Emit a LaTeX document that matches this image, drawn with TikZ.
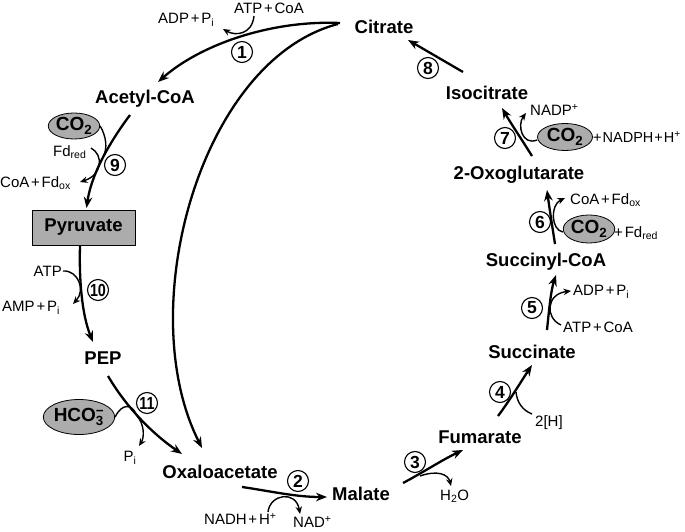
\documentclass[tikz,border=0pt]{standalone}
\usepackage{fontspec}
\usepackage{graphicx}
\setmainfont{Liberation Sans}
\usetikzlibrary{shapes.geometric,arrows.meta}
\newcommand\plsign{\kern1.8pt+\kern1.8pt}
\begin{document}
\begin{tikzpicture}[x=1pt,y=-1pt,
 cpd/.style={font=\fontsize{18.5}{21}\selectfont\bfseries, inner sep=1pt},
 cof/.style={font=\fontsize{15}{17}\selectfont, inner sep=0pt},
 stepnum/.style={circle, draw, line width=1.1pt, minimum size=21pt, inner sep=0pt, font=\fontsize{17.5}{18}\selectfont\bfseries},
 gas/.style={ellipse, draw, line width=0.8pt, fill=gray!65, inner sep=0pt, font=\fontsize{19}{21}\selectfont\bfseries},
 main/.style={line width=2.3pt, -{Stealth[length=11pt,width=8.5pt]}},
 side/.style={line width=1.4pt, -{Stealth[length=7.5pt,width=6.5pt]}},
 joinline/.style={line width=1.4pt}]
\useasboundingbox (0,0) rectangle (685,532);
% compounds
\node[cpd] (cit) at (384,27) {Citrate};
\node[cpd] (acoa) at (145,99) {Acetyl-CoA};
\node[draw, line width=0.8pt, fill=gray!65, minimum width=103pt, minimum height=35pt, font=\fontsize{18.5}{21}\selectfont\bfseries] (pyr) at (83.5,227.5) {Pyruvate};
\node[cpd] (pep) at (103,358) {PEP};
\node[cpd] (oaa) at (220,472) {Oxaloacetate};
\node[cpd] (mal) at (361,494) {Malate};
\node[cpd] (fum) at (480,437) {Fumarate};
\node[cpd] (suc) at (532,352) {Succinate};
\node[cpd] (scoa) at (546,262) {Succinyl-CoA};
\node[cpd] (oxg) at (519,175) {2-Oxoglutarate};
\node[cpd] (icit) at (487,93) {Isocitrate};
% gases
\node[gas, minimum width=48pt, minimum height=26pt] (co2a) at (74,126) {CO\textsubscript{2}};
\node[gas, minimum width=65pt, minimum height=35pt] (hco) at (79,417) {HCO\rlap{\textsubscript{3}}\textsuperscript{\char"2212}};
\node[gas, minimum width=48pt, minimum height=28pt] (co2c) at (589,229) {CO\textsubscript{2}};
\node[gas, minimum width=55pt, minimum height=27pt] (co2d) at (565,137) {CO\textsubscript{2}};
% cofactors
\node[cof, anchor=west] (adp1) at (158,20) {ADP\plsign P\textsubscript{i}};
\node[cof, anchor=west] (atp1) at (234,8) {ATP\plsign CoA};
\node[cof, anchor=west] (fdr9) at (53,152) {Fd\textsubscript{red}};
\node[cof, anchor=west] (fdo9) at (0,183) {CoA\plsign Fd\textsubscript{ox}};
\node[cof, anchor=east] (atp10) at (62,271) {ATP};
\node[cof, anchor=west] (amp10) at (2,308) {AMP\plsign P\textsubscript{i}};
\node[cof] (pi11) at (130,458) {P\textsubscript{i}};
\node[cof, anchor=west] (nadh2) at (204,519) {NADH\plsign H\textsuperscript{+}};
\node[cof, anchor=west] (nad2) at (293,522) {NAD\textsuperscript{+}};
\node[cof, anchor=west] (h2o3) at (440,496) {H\textsubscript{2}O};
\node[cof, anchor=west] (h4) at (535,423) {2[H]};
\node[cof, anchor=west] (atp5) at (563,327) {ATP\plsign CoA};
\node[cof, anchor=west] (adp5) at (573,292) {ADP\plsign P\textsubscript{i}};
\node[cof, anchor=west] (fdr6) at (614,233) {+\kern1.8pt Fd\textsubscript{red}};
\node[cof, anchor=west] (fdo6) at (570,200) {CoA\plsign Fd\textsubscript{ox}};
\node[cof, anchor=west, font=\fontsize{14.5}{17}\selectfont] (nadph7) at (593,137) {+\kern1pt NADPH\kern1pt+\kern1pt H\textsuperscript{+}};
\node[cof, anchor=west] (nadp7) at (530,110) {NADP\textsuperscript{+}};
% step numbers
\node[stepnum] (s1) at (242,52) {1};
\node[stepnum] (s2) at (298,481) {2};
\node[stepnum] (s3) at (415,462) {3};
\node[stepnum] (s4) at (500,392) {4};
\node[stepnum] (s5) at (532,308) {5};
\node[stepnum] (s6) at (540,222) {6};
\node[stepnum] (s7) at (505,138) {7};
\node[stepnum] (s8) at (428,68) {8};
\node[stepnum] (s9) at (115,165) {9};
\node[stepnum] (s10) at (98,290) {\scalebox{0.82}[1]{10}};
\node[stepnum] (s11) at (147,403) {\scalebox{0.82}[1]{11}};
% main arrows
\draw[main] ([shift={(-44,-4)}]cit.center) .. controls (270,20) and (200,45) .. ([shift={(13,-17)}]acoa.center);
\draw[main] ([shift={(-46,-3)}]cit.center) .. controls (200,60) and (132,310) .. ([shift={(-18,-24)}]oaa.center);
\draw[main] ([shift={(-15,16)}]acoa.center) .. controls (115,135) and (92,170) .. ([shift={(3,-19.5)}]pyr.center);
\draw[main] ([shift={(-3.5,18.5)}]pyr.center) .. controls (79,280) and (82,315) .. ([shift={(-10,-16)}]pep.center);
\draw[main] ([shift={(5,18)}]pep.center) .. controls (125,405) and (150,432) .. ([shift={(-38,-18)}]oaa.center);
\draw[main] ([shift={(22,15)}]oaa.center) .. controls (270,491) and (295,497) .. ([shift={(-34,3)}]mal.center);
\draw[main] ([shift={(42,-11)}]mal.center) .. controls (422,473) and (442,460) .. ([shift={(-17,13)}]fum.center);
\draw[main] ([shift={(18,-21)}]fum.center) .. controls (510,400) and (522,380) .. ([shift={(0,13)}]suc.center);
\draw[main] ([shift={(15,-22)}]suc.center) .. controls (549,310) and (551,290) .. ([shift={(10,13)}]scoa.center);
\draw[main] ([shift={(9,-18)}]scoa.center) .. controls (552,225) and (549,205) .. ([shift={(28,15)}]oxg.center);
\draw[main] ([shift={(13,-19)}]oxg.center) .. controls (522,140) and (510,122) .. ([shift={(15,15)}]icit.center);
\draw[main] ([shift={(-24,-21)}]icit.center) -- ([shift={(24,13)}]cit.center);
% side reactions
\draw[side] ([shift={(20,8)}]atp1.west) .. controls (252,35) and (235,36) .. ([shift={(65,9)}]adp1.west);
\draw[joinline] (co2a.east) .. controls (106,136) and (108,148) .. ([shift={(-12,-8)}]s9.center);
\draw[side] ([shift={(38,-4)}]fdr9.west) .. controls (104,155) and (102,175) .. ([shift={(80,-1)}]fdo9.west);
\draw[side] ([shift={(1,0)}]atp10.east) .. controls (78,270) and (86,290) .. ([shift={(71,-4)}]amp10.west);
\draw[joinline] (hco.east) .. controls (122,403) and (132,404) .. ([shift={(-11,11)}]s11.center);
\draw[side] ([shift={(-10,13)}]s11.center) .. controls (145,425) and (144,438) .. ([shift={(9,-12)}]pi11.center);
\draw[side] ([shift={(64,-7)}]nadh2.west) .. controls (270,494) and (296,490) .. ([shift={(7,-8)}]nad2.west);
\draw[side] ([shift={(5,14)}]s3.center) .. controls (437,470) and (448,474) .. ([shift={(11,-10)}]h2o3.west);
\draw[joinline] ([shift={(-3,-9)}]h4.west) .. controls (522,410) and (517,402) .. ([shift={(16,0)}]s4.center);
\draw[side] ([shift={(-2,-2)}]atp5.west) .. controls (545,318) and (546,294) .. ([shift={(-2,-1)}]adp5.west);
\draw[side] ([shift={(0,3)}]co2c.west) .. controls (551,230) and (550,205) .. ([shift={(-5,-2)}]fdo6.west);
\draw[side] ([shift={(0,3)}]co2d.west) .. controls (522,146) and (517,125) .. ([shift={(-4,3)}]nadp7.west);
\end{tikzpicture}
\end{document}
